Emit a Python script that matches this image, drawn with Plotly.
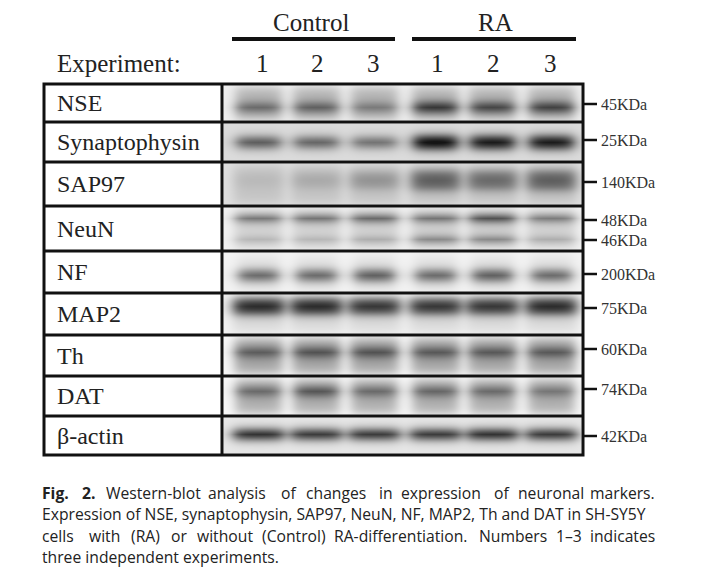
import numpy as np
import plotly.graph_objects as go

# header text
groups = ['Control', 'RA']
lanes = ['1', '2', '3', '1', '2', '3']

markers = ['NSE', 'Synaptophysin', 'SAP97', 'NeuN', 'NF', 'MAP2', 'Th', 'DAT', 'β-actin']
mw_labels = ['45KDa', '25KDa', '140KDa', '48KDa', '46KDa', '200KDa', '75KDa', '60KDa', '74KDa', '42KDa']

nse = [0.40, 0.45, 0.32, 0.65, 0.58, 0.60]
synaptophysin = [0.62, 0.58, 0.52, 0.98, 0.92, 0.92]
sap97 = [0.05, 0.12, 0.22, 0.45, 0.40, 0.45]
neun_48 = [0.60, 0.62, 0.68, 0.62, 0.82, 0.58]
neun_46 = [0.22, 0.22, 0.28, 0.50, 0.50, 0.28]
nf = [0.60, 0.60, 0.65, 0.60, 0.65, 0.60]
map2 = [0.80, 0.80, 0.75, 0.75, 0.75, 0.80]
th = [0.40, 0.45, 0.45, 0.42, 0.42, 0.42]
dat = [0.38, 0.48, 0.38, 0.40, 0.38, 0.32]
b_actin = [0.92, 0.88, 0.88, 0.88, 0.92, 0.88]

caption = [
    '<b>Fig. 2.</b> Western-blot analysis of changes in expression of neuronal markers.',
    'Expression of NSE, synaptophysin, SAP97, NeuN, NF, MAP2, Th and DAT in SH-SY5Y',
    'cells with (RA) or without (Control) RA-differentiation. Numbers 1–3 indicates',
    'three independent experiments.',
]
justified = [True, False, True, False]

# page geometry (pixels of the 705x575 page); the page body has an 8px margin
W, H, PAD = 705, 575, 8
box_left, label_right, box_right = 44, 222, 583
row_edges = [84, 122, 162, 206, 251, 293, 335, 376, 416, 455]
lane_x = [258, 316, 374, 435, 492, 551]
num_x = [262, 317, 373, 437, 493, 550]
tick_y = [104, 140, 182, 220, 240, 274, 308, 349, 389, 436]
cap_left, cap_right = 40, 657

# how each strip looks: band rows (values, centre y, half height), lane half width, haze, background
panels = [
    dict(bands=[(nse, 107, 5)], hw=23, haze=0.26, bg=0.06),
    dict(bands=[(synaptophysin, 142, 6)], hw=23, haze=0.0, bg=0.15),
    dict(bands=[(sap97, 180, 12)], hw=25, haze=0.12, bg=0.13),
    dict(bands=[(neun_48, 218, 2.5), (neun_46, 239, 2.5)], hw=24, haze=0.12, bg=0.05),
    dict(bands=[(nf, 275, 6)], hw=21, haze=0.06, bg=0.05),
    dict(bands=[(map2, 306, 8)], hw=26, haze=0.10, bg=0.05),
    dict(bands=[(th, 352, 5)], hw=24, haze=0.36, bg=0.02),
    dict(bands=[(dat, 391, 5)], hw=23, haze=0.32, bg=0.02),
    dict(bands=[(b_actin, 434, 4.5)], hw=26, haze=0.0, bg=0.10),
]


def soft_box(t, c, half, soft):
    return 1.0 / (1.0 + np.exp((np.abs(t - c) - half) / soft))


def text_width(s, size):
    # rough advance widths for the caption font
    w = 0.0
    for ch in s:
        if ch in 'ijlt.,:;()\'|! ':
            w += 0.28
        elif ch in 'frI-1':
            w += 0.38
        elif ch in 'mwMW':
            w += 0.87
        elif ch.isupper():
            w += 0.66
        else:
            w += 0.58
    return w * size


fig = go.Figure()

grey = [[0, '#ffffff'], [1, '#141414']]
for i, p in enumerate(panels):
    top, bot = row_edges[i], row_edges[i + 1]
    xs = np.arange(label_right + 2, box_right - 1)
    ys = np.arange(top + 2, bot - 1)
    X, Y = np.meshgrid(xs, ys)
    d = np.full(X.shape, p['bg'], dtype=float)
    for k, cx in enumerate(lane_x):
        lane = soft_box(X, cx, p['hw'], 3.5)
        d += p['haze'] * lane * soft_box(Y, (top + bot) / 2, (bot - top) / 2 - 3, 3)
        for vals, cy, hh in p['bands']:
            v = vals[k]
            d += v * soft_box(X, cx, p['hw'] - 1, 4.0) * soft_box(Y, cy, hh * (0.55 + 0.5 * v), 2.8)
    d = np.clip(d, 0, 1)
    fig.add_trace(go.Heatmap(z=d, x0=xs[0], dx=1, y0=ys[0], dy=1,
                             colorscale=grey, zmin=0, zmax=1,
                             showscale=False, hoverinfo='skip'))

shapes = []
line = dict(color='#111111', width=3)
# frame and row separators
shapes.append(dict(type='rect', x0=box_left, x1=box_right, y0=row_edges[0], y1=row_edges[-1], line=line))
shapes.append(dict(type='line', x0=label_right, x1=label_right, y0=row_edges[0], y1=row_edges[-1], line=line))
for y in row_edges[1:-1]:
    shapes.append(dict(type='line', x0=box_left, x1=box_right, y0=y, y1=y, line=line))
# molecular weight ticks
for y in tick_y:
    shapes.append(dict(type='line', x0=box_right, x1=597, y0=y, y1=y, line=dict(color='#111111', width=2.5)))
# group bars
shapes.append(dict(type='line', x0=232, x1=395, y0=39, y1=39, line=dict(color='#111111', width=4)))
shapes.append(dict(type='line', x0=412, x1=576, y0=39, y1=39, line=dict(color='#111111', width=4)))

serif = 'Liberation Serif'
ann = []
ann.append(dict(x=311, y=22, text=groups[0], font=dict(family=serif, size=25, color='#222')))
ann.append(dict(x=495, y=22, text=groups[1], font=dict(family=serif, size=25, color='#222')))
ann.append(dict(x=55, y=63, text='Experiment:', xanchor='left', font=dict(family=serif, size=25, color='#222')))
for x, t in zip(num_x, lanes):
    ann.append(dict(x=x, y=63, text=t, font=dict(family=serif, size=25, color='#222')))
for i, m in enumerate(markers):
    yc = (row_edges[i] + row_edges[i + 1]) / 2
    ann.append(dict(x=55, y=yc, text=m, xanchor='left', font=dict(family=serif, size=24, color='#222')))
for y, t in zip(tick_y, mw_labels):
    ann.append(dict(x=599, y=y, text=t, xanchor='left', font=dict(family=serif, size=16, color='#333')))

cap_font = dict(family='Open Sans', size=15.7, color='#222')
for j, t in enumerate(caption):
    yj = 493 + j * 21.3
    if not justified[j]:
        ann.append(dict(x=cap_left, y=yj, text=t, xanchor='left', font=cap_font))
        continue
    # justified line: spread the words over the full column width
    words = t.replace('<b>Fig. 2.</b>', '<b>Fig.</b> <b>2.</b>').split(' ')
    plain = [w.replace('<b>', '').replace('</b>', '') for w in words]
    widths = [text_width(w, cap_font['size']) * (1.08 if '<b>' in words[n] else 1.0) for n, w in enumerate(plain)]
    gap = (cap_right - cap_left - sum(widths)) / (len(words) - 1)
    x = cap_left
    for n, w in enumerate(words):
        if n == len(words) - 1:
            ann.append(dict(x=cap_right, y=yj, text=w, xanchor='right', font=cap_font))
        else:
            ann.append(dict(x=x, y=yj, text=w, xanchor='left', font=cap_font))
        x += widths[n] + gap

for a in ann:
    a.update(xref='x', yref='y', showarrow=False, yanchor='middle')

fig.update_layout(
    width=W - PAD, height=H - PAD, autosize=False,
    margin=dict(l=0, r=0, t=0, b=0),
    paper_bgcolor='white', plot_bgcolor='white',
    xaxis=dict(range=[PAD, W], visible=False, fixedrange=True),
    yaxis=dict(range=[H, PAD], visible=False, fixedrange=True),
    shapes=shapes, annotations=ann, showlegend=False,
)

fig.write_html('out.html')
